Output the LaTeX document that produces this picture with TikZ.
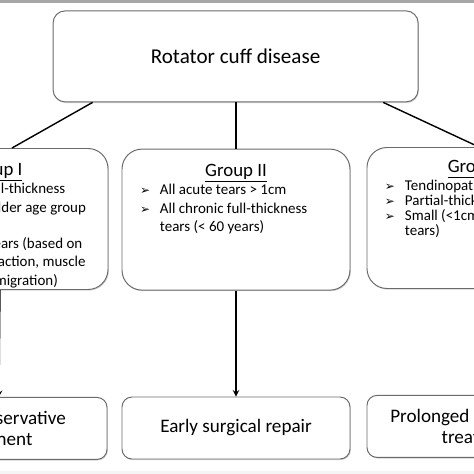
\documentclass[tikz,border=0pt]{standalone}
\usepackage{fontspec}
\setmainfont{Carlito}
\newfontfamily\symfont{DejaVu Sans}
\usetikzlibrary{arrows,shadows}
\definecolor{boxline}{rgb}{0.42,0.42,0.42}
\newcommand{\bitem}{\makebox[0.5cm][l]{\symfont\fontsize{8.5}{8.5}\selectfont ➢}}
\newcommand{\bgap}{\hspace*{0.5cm}}

\begin{document}
\begin{tikzpicture}[
    box/.style={rectangle, draw=boxline, line width=0.7pt, fill=white,
      drop shadow={shadow xshift=0.6pt, shadow yshift=-0.8pt, opacity=0.35}},
    topbox/.style={box, rounded corners=0.3cm, minimum width=9.125cm, minimum height=2.275cm, font=\fontsize{15}{18}\selectfont},
    groupbox/.style={box, rounded corners=0.5cm, minimum width=5.7cm, minimum height=3.525cm, inner xsep=0.45cm, inner ysep=0pt},
    treatbox/.style={box, rounded corners=0.25cm, minimum width=5.7cm, minimum height=1.55cm, align=center, font=\fontsize{13.6}{15.6}\selectfont},
    link/.style={line width=1pt},
    arrow/.style={->, >=stealth, line width=1pt}
]
    \clip (0,0) rectangle (11.85,-11.85);
    \fill[gray!70] (0,0) rectangle (11.85,-0.07);
    \fill[gray!8] (0,-11.78) rectangle (11.85,-11.85);

    \node[topbox] (disease) at (5.89,-1.41) {Rotator cuff disease};

    \node[groupbox] (group1) at (-0.15,-5.475) {\begin{minipage}[c][3.525cm][t]{4.8cm}
        \centering\rule{0pt}{0.675cm}{\fontsize{13.4}{16}\selectfont\underline{Group I}}\par
        \raggedright\fontsize{10.65}{13}\selectfont
        \bitem All chronic full-thickness\\
        \bgap tears in the older age group\\
        \bgap (> 60 years)\\
        \bitem Irreparable tears (based on\\
        \bgap tear size, retraction, muscle\\
        \bgap atrophy and migration)
    \end{minipage}};
    \node[groupbox] (group2) at (5.9,-5.49) {\begin{minipage}[c][3.525cm][t]{4.8cm}
        \centering\rule{0pt}{0.675cm}{\fontsize{13.4}{16}\selectfont\underline{Group II}}\par
        \raggedright\fontsize{10.65}{13.2}\selectfont
        \bitem All acute tears > 1cm\\
        \bitem All chronic full-thickness\\
        \bgap tears (< 60  years)
    \end{minipage}};
    \node[groupbox] (group3) at (12.025,-5.45) {\begin{minipage}[c][3.525cm][t]{4.8cm}
        \centering\rule{0pt}{0.625cm}{\fontsize{13.4}{16}\selectfont\underline{Group III}}\par
        \raggedright\fontsize{10.65}{10.7}\selectfont
        \bitem Tendinopathy\\
        \bitem Partial-thickness tears\\
        \bitem Small (<1cm full-thickness\\
        \bgap tears)
    \end{minipage}};

    \node[treatbox] (conserv) at (-0.175,-10.71) {Initial conservative\\treatment};
    \node[treatbox] (early) at (5.9,-10.7) {Early surgical repair};
    \node[treatbox] (prolonged) at (12.025,-10.66) {Prolonged conservative\\treatment};

    % branches from the top box
    \draw[link] ([xshift=-3.575cm]disease.south) -- ([xshift=0.45cm]group1.north);
    \draw[link] (disease.south -| group2.north) -- (group2.north);
    \draw[link] ([xshift=3.69cm]disease.south) -- ([xshift=-0.05cm]group3.north);

    \draw[arrow] ([xshift=0.15cm]group1.south) -- ([xshift=0.15cm]conserv.north);
    \draw[arrow] (group2) -- (early);
\end{tikzpicture}
\end{document}
